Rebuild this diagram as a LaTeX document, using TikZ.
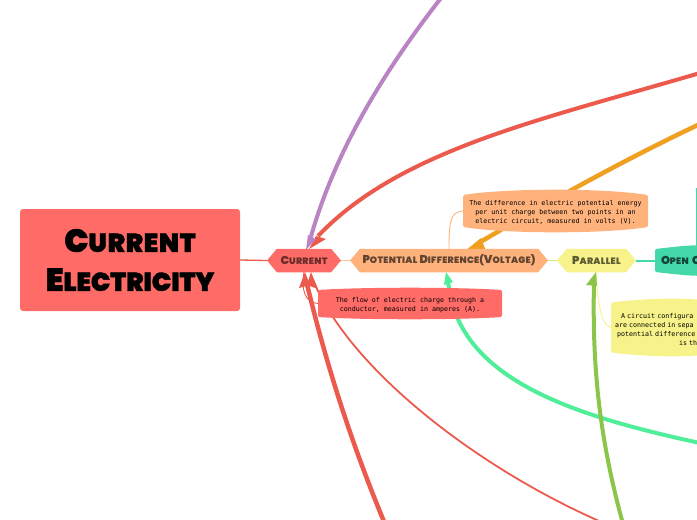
\documentclass[tikz,border=0pt]{standalone}
\usepackage{fontspec}
\usetikzlibrary{shapes.symbols}
\newfontfamily\headfont{Poppins Black}[FakeBold=1.2]
\newfontfamily\headwide{Poppins Black}[FakeBold=1.2,LetterSpace=3]
\newfontfamily\labfont{Poppins Black}[LetterSpace=3]
\newfontfamily\monof{DejaVu Sans Mono}
\definecolor{cred}{HTML}{FF6B66}
\definecolor{clink}{HTML}{EC5A4E}
\definecolor{cpeach}{HTML}{FFB27C}
\definecolor{cyel}{HTML}{F7F28A}
\definecolor{cteal}{HTML}{43D8A8}
\definecolor{cpurple}{HTML}{B983C4}
\definecolor{corange}{HTML}{F0A020}
\definecolor{cmint}{HTML}{50EE98}
\definecolor{clime}{HTML}{8BC64A}
\newcommand\tcap[2]{{\fontsize{32}{30}\selectfont #1}{\fontsize{25.8}{30}\selectfont #2}}
\newcommand\lcap[2]{{\fontsize{11.4}{12}\selectfont #1}{\fontsize{9.2}{12}\selectfont #2}}
\newcommand\upstrut{\rule{0pt}{8.5pt}}
\pgfdeclarelayer{conn}
\pgfdeclarelayer{shapes}
\pgfsetlayers{conn,shapes,main}
\tikzset{
  hexa/.style={signal,signal to=east and west,signal pointer angle=100,minimum height=23.5pt,inner sep=0pt,outer sep=0pt,fill=#1,font=\labfont},
  note/.style={font=\monof\fontsize{6.65}{9}\selectfont,align=center,inner sep=0pt,outer sep=0pt},
  link/.style={line width=1.3pt},
  big/.style={line width=#1,line cap=butt},
  fine/.style={line width=.9pt}
}
\newcommand\barrel[3]{% node, colour, sag
  \begin{pgfonlayer}{shapes}
  \fill[#2,rounded corners=1.5pt] ([yshift=-#3pt]#1.north west) .. controls ([xshift=45pt]#1.north west) and ([xshift=-45pt]#1.north east) .. ([yshift=-#3pt]#1.north east) -- ([yshift=#3pt]#1.south east) .. controls ([xshift=-45pt]#1.south east) and ([xshift=45pt]#1.south west) .. ([yshift=#3pt]#1.south west) -- cycle;
  \end{pgfonlayer}}
\begin{document}
\begin{tikzpicture}[x=1pt,y=-1pt]
\useasboundingbox (0,0) rectangle (697,520);
\clip (0,0) rectangle (697,520);
\node[fill=cred,rounded corners=3pt,minimum width=220pt,minimum height=102pt,inner sep=0pt,outer sep=0pt,align=center,font=\headfont\fontsize{32}{39}\selectfont] (title) at (130,260) {{\headwide\tcap{C}{URRENT}}\\\tcap{E}{LECTRICITY}};
\node[hexa=cred,minimum width=74pt,text=black!58!cred] (cur) at (304,260.5) {\lcap{C}{URRENT}};
\node[hexa=cpeach,minimum width=198pt,text=black!62!cpeach] (pd) at (449,260.5) {\lcap{P}{OTENTIAL} \lcap{D}{IFFERENCE}(\lcap{V}{OLTAGE})};
\node[hexa=cyel,minimum width=79pt,text=black!62!cyel] (par) at (596.5,260.5) {\lcap{P}{ARALLEL}};
\node[minimum width=90pt,minimum height=33pt,inner sep=0pt,outer sep=0pt,font=\labfont,text=black!68!cteal,anchor=west,align=left,text width=90pt] (open) at (655,260.5) {\hspace*{6pt}\lcap{O}{PEN} \lcap{C}{}};
\barrel{open}{cteal}{5}
\node[note,minimum width=185pt,minimum height=46pt] (pdn) at (555.5,211) {\upstrut The difference in electric potential energy\\per unit charge between two points in an\\electric circuit, measured in volts (V).};
\barrel{pdn}{cpeach}{7}
\node[note,minimum width=184pt,minimum height=33pt] (curn) at (410,303.5) {\upstrut The flow of electric charge through a\\conductor, measured in amperes (A).};
\barrel{curn}{cred}{3}
\node[note,minimum width=120pt,minimum height=60pt,align=left,anchor=west,text width=120pt] (parn) at (611,327.5) {\upstrut\hspace*{10pt}A circuit configura\\\hspace*{4pt}are connected in sepa\\\hspace*{6pt}potential difference\\\hspace*{68pt}is th};
\barrel{parn}{cyel}{5}
\coordinate (a1) at (441,-2);
\coordinate (a2) at (700,73);
\coordinate (a3) at (700,124);
\coordinate (a4) at (696.5,188);
\coordinate (a5) at (700,443);
\coordinate (a6) at (623,524);
\coordinate (a7) at (606,524);
\coordinate (a8) at (385,524);
\begin{pgfonlayer}{conn}
\draw[link,clink] (title.east) -- (cur.west);
\draw[link,cpeach!80!white] (cur.east) -- (pd.west);
\draw[link,cyel!70!clime] (pd.east) -- (par.west);
\draw[link,cteal,line width=2pt] (par.east) -- (open.west);
\draw[fine,cpeach] (449,249) .. controls (449,222) and (450,212) .. (pdn.west);
\draw[fine,cyel] (596,272) .. controls (598,300) and (600,325) .. (parn.west);
\draw[fine,clink] (304,272) .. controls (301,290) and (305,303) .. (curn.west);
% upper red
\draw[big=4pt,clink] (a2) .. controls (540,120) and (400,150) .. (318,236);
\fill[clink] (316,236) -- (326,239) -- (309,249) -- cycle;
% purple
\draw[big=4pt,cpurple] (a1) .. controls (385,70) and (335,150) .. (310,240);
\fill[cpurple] (306,250) -- (308,235) -- (316,239) -- cycle;
% orange
\draw[big=4.5pt,corange] (a3) .. controls (640,152) and (560,195) .. (482,241);
\fill[corange] (465,251) -- (481,238) -- (486,251) -- cycle;
% teal
\draw[line width=1.8pt,cteal] (a4) -- (696.5,246);
% mint
\draw[big=4pt,cmint] (a5) .. controls (570,415) and (456,378) .. (448,280);
\fill[cmint] (446,272) -- (444,285) -- (453,282) -- cycle;
% lime
\draw[big=4pt,clime] (a6) .. controls (600,440) and (592,370) .. (594,282);
\fill[clime] (596,272) -- (586,285) -- (597,286) -- cycle;
% thin red
\draw[line width=1.8pt,clink] (a7) .. controls (480,470) and (350,370) .. (313,280);
\fill[clink] (311,272) -- (318,289) -- (307,285) -- cycle;
% lower red
\draw[big=4.5pt,clink] (a8) .. controls (350,440) and (325,360) .. (306,280);
\fill[clink] (305,272) -- (299,288) -- (310,285) -- cycle;
\end{pgfonlayer}
\end{tikzpicture}
\end{document}
